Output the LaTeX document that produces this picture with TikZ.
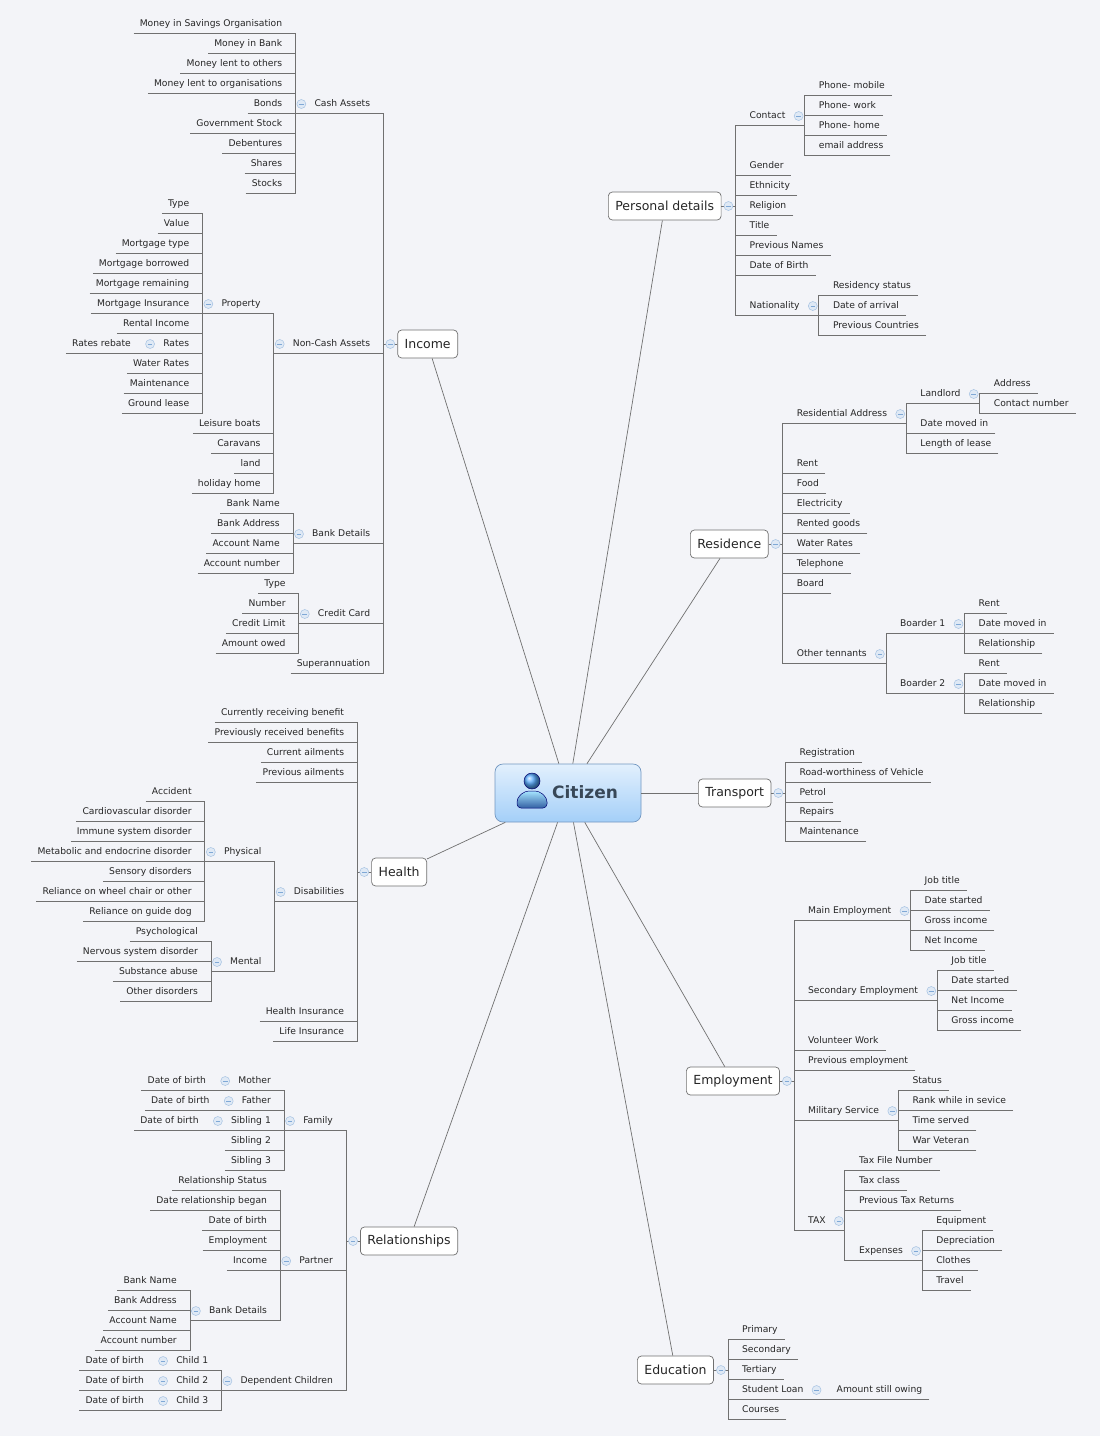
\documentclass[tikz,border=0pt]{standalone}
\usepackage{fontspec}
\setmainfont{DejaVu Sans}
\usetikzlibrary{calc}
\definecolor{bg}{HTML}{F3F4F8}
\definecolor{ln}{HTML}{707070}
\definecolor{cb}{HTML}{7FA8D6}
\definecolor{ctop}{HTML}{E2F0FD}
\definecolor{cbot}{HTML}{A4CFF8}
\definecolor{ctext}{HTML}{384858}
\tikzset{
 conn/.style={draw=ln,line width=0.7pt},
 base/.style={font=\fontsize{9.2}{11}\selectfont,text height=7pt,text depth=2.2pt,minimum height=18pt,inner ysep=0pt,text=black!85},
 box/.style={draw=ln,fill=white,rounded corners=4pt,minimum height=28pt,inner xsep=7pt,font=\fontsize{12.5}{14}\selectfont,text=black!85,line width=0.7pt},
 coll/.style={circle,draw=cb!70,fill=cb!25,minimum size=9pt,inner sep=0pt,line width=0.5pt,
   path picture={\draw[cb,line width=0.8pt] ([xshift=-2.3pt]path picture bounding box.center) -- ([xshift=2.3pt]path picture bounding box.center);}},
}
\newcommand\LL[4]{\node[base,anchor=east,inner xsep=0pt] (#1) at ([xshift=-13pt]#2 |- 0,#3) {#4};
 \coordinate (#1-a) at ([xshift=-6pt]#1.south west);\coordinate (#1-b) at ([xshift=13pt]#1.south east);
 \draw[conn] (#1-a) -- (#1-b) -- (#1-b |- #2);}
\newcommand\LP[4]{\node[base,anchor=east,inner xsep=0pt] (#1) at ([xshift=-13pt]#2 |- 0,#3) {#4};
 \coordinate (#1-a) at ([xshift=-19pt]#1.south west);\coordinate (#1-b) at ([xshift=13pt]#1.south east);
 \draw[conn] (#1-a) -- (#1-b) -- (#1-b |- #2);
 \node[coll] (#1-c) at ([xshift=6pt]#1-a |- #1.center) {};}
\newcommand\RL[4]{\node[base,anchor=west,inner xsep=0pt] (#1) at ([xshift=14pt]#2 |- 0,#3) {#4};
 \coordinate (#1-a) at ([xshift=7pt]#1.south east);\coordinate (#1-b) at ([xshift=-14pt]#1.south west);
 \draw[conn] (#1-a) -- (#1-b) -- (#1-b |- #2);}
\newcommand\RP[4]{\node[base,anchor=west,inner xsep=0pt] (#1) at ([xshift=14pt]#2 |- 0,#3) {#4};
 \coordinate (#1-a) at ([xshift=19pt]#1.south east);\coordinate (#1-b) at ([xshift=-14pt]#1.south west);
 \draw[conn] (#1-a) -- (#1-b) -- (#1-b |- #2);
 \node[coll] (#1-c) at ([xshift=-6pt]#1-a |- #1.center) {};}
\begin{document}
\begin{tikzpicture}[x=1pt,y=-1pt]
\fill[bg] (0,0) rectangle (1100,1436);
\useasboundingbox (0,0) rectangle (1100,1436);

% center
\node[draw=cb!90!black,rounded corners=8pt,top color=ctop,bottom color=cbot,minimum width=146pt,minimum height=58pt,line width=0.7pt] (cit) at (568,793) {};
\node[font=\bfseries\fontsize{17}{20}\selectfont,text=ctext] (citt) at (585,792) {Citizen};
\shade[top color=blue!30!cyan!35,bottom color=blue!60!cyan!55!black!80,draw=blue!45!black,line width=0.5pt,rounded corners=4pt] (517,808) -- (517,798) -- (525,791) -- (539,791) -- (547,798) -- (547,808) -- cycle;
\shade[ball color=blue!50!cyan!65,draw=blue!45!black,line width=0.5pt] (532,781) circle (8);

% boxes
\node[box,anchor=east] (inc) at (458,344) {Income};
\node[box,anchor=east] (hea) at (427,872) {Health};
\node[box,anchor=east] (rel) at (458,1241) {Relationships};
\node[box,anchor=west] (per) at (608,206) {Personal details};
\node[box,anchor=west] (res) at (690,544) {Residence};
\node[box,anchor=west] (tra) at (698,793) {Transport};
\node[box,anchor=west] (emp) at (686,1081) {Employment};
\node[box,anchor=west] (edu) at (637,1370) {Education};
\foreach \b in {inc,hea,rel,per,res,tra,emp,edu}{\draw[conn] (cit) -- (\b);}
\foreach \b in {inc,hea,rel}{\coordinate (\b V) at ([xshift=-14pt]\b.west);\draw[conn] (\b.west) -- (\b V);}
\foreach \b in {per,res,tra,emp,edu}{\coordinate (\b V) at ([xshift=14pt]\b.east);\draw[conn] (\b.east) -- (\b V);}

% Income
\LP{ca}{incV}{104}{Cash Assets}
\LL{ca1}{ca-a}{24}{Money in Savings Organisation}
\LL{ca2}{ca-a}{44}{Money in Bank}
\LL{ca3}{ca-a}{64}{Money lent to others}
\LL{ca4}{ca-a}{84}{Money lent to organisations}
\LL{ca5}{ca-a}{104}{Bonds}
\LL{ca6}{ca-a}{124}{Government Stock}
\LL{ca7}{ca-a}{144}{Debentures}
\LL{ca8}{ca-a}{164}{Shares}
\LL{ca9}{ca-a}{184}{Stocks}
\LP{nca}{incV}{344}{Non-Cash Assets}
\LP{pr}{nca-a}{304}{Property}
\LL{pr1}{pr-a}{204}{Type}
\LL{pr2}{pr-a}{224}{Value}
\LL{pr3}{pr-a}{244}{Mortgage type}
\LL{pr4}{pr-a}{264}{Mortgage borrowed}
\LL{pr5}{pr-a}{284}{Mortgage remaining}
\LL{pr6}{pr-a}{304}{Mortgage Insurance}
\LL{pr7}{pr-a}{324}{Rental Income}
\LP{rat}{pr-a}{344}{Rates}
\LL{rat1}{rat-a}{344}{Rates rebate}
\LL{pr9}{pr-a}{364}{Water Rates}
\LL{pr10}{pr-a}{384}{Maintenance}
\LL{pr11}{pr-a}{404}{Ground lease}
\LL{nc2}{nca-a}{424}{Leisure boats}
\LL{nc3}{nca-a}{444}{Caravans}
\LL{nc4}{nca-a}{464}{land}
\LL{nc5}{nca-a}{484}{holiday home}
\LP{bd}{incV}{534}{Bank Details}
\LL{bd1}{bd-a}{504}{Bank Name}
\LL{bd2}{bd-a}{524}{Bank Address}
\LL{bd3}{bd-a}{544}{Account Name}
\LL{bd4}{bd-a}{564}{Account number}
\LP{cc}{incV}{614}{Credit Card}
\LL{cc1}{cc-a}{584}{Type}
\LL{cc2}{cc-a}{604}{Number}
\LL{cc3}{cc-a}{624}{Credit Limit}
\LL{cc4}{cc-a}{644}{Amount owed}
\LL{sup}{incV}{664}{Superannuation}
\node[coll] at ($(inc.west)!0.5!(incV)$) {};

% Health
\LL{h1}{heaV}{713}{Currently receiving benefit}
\LL{h2}{heaV}{733}{Previously received benefits}
\LL{h3}{heaV}{753}{Current ailments}
\LL{h4}{heaV}{773}{Previous ailments}
\LP{dis}{heaV}{892}{Disabilities}
\LP{phy}{dis-a}{852}{Physical}
\LL{ph1}{phy-a}{792}{Accident}
\LL{ph2}{phy-a}{812}{Cardiovascular disorder}
\LL{ph3}{phy-a}{832}{Immune system disorder}
\LL{ph4}{phy-a}{852}{Metabolic and endocrine disorder}
\LL{ph5}{phy-a}{872}{Sensory disorders}
\LL{ph6}{phy-a}{892}{Reliance on wheel chair or other}
\LL{ph7}{phy-a}{912}{Reliance on guide dog}
\LP{men}{dis-a}{962}{Mental}
\LL{me1}{men-a}{932}{Psychological}
\LL{me2}{men-a}{952}{Nervous system disorder}
\LL{me3}{men-a}{972}{Substance abuse}
\LL{me4}{men-a}{992}{Other disorders}
\LL{h5}{heaV}{1012}{Health Insurance}
\LL{h6}{heaV}{1032}{Life Insurance}
\node[coll] at ($(hea.west)!0.5!(heaV)$) {};

% Relationships
\LP{fam}{relV}{1121}{Family}
\LP{mo}{fam-a}{1081}{Mother}
\LL{mo1}{mo-a}{1081}{Date of birth}
\LP{fa}{fam-a}{1101}{Father}
\LL{fa1}{fa-a}{1101}{Date of birth}
\LP{sa}{fam-a}{1121}{Sibling 1}
\LL{sa1}{sa-a}{1121}{Date of birth}
\LL{sb}{fam-a}{1141}{Sibling 2}
\LL{sc}{fam-a}{1161}{Sibling 3}
\LP{pa}{relV}{1261}{Partner}
\LL{pa1}{pa-a}{1181}{Relationship Status}
\LL{pa2}{pa-a}{1201}{Date relationship began}
\LL{pa3}{pa-a}{1221}{Date of birth}
\LL{pa4}{pa-a}{1241}{Employment}
\LL{pa5}{pa-a}{1261}{Income}
\LP{pb}{pa-a}{1311}{Bank Details}
\LL{pb1}{pb-a}{1281}{Bank Name}
\LL{pb2}{pb-a}{1301}{Bank Address}
\LL{pb3}{pb-a}{1321}{Account Name}
\LL{pb4}{pb-a}{1341}{Account number}
\LP{dc}{relV}{1381}{Dependent Children}
\LP{k1}{dc-a}{1361}{Child 1}
\LL{k1a}{k1-a}{1361}{Date of birth}
\LP{k2}{dc-a}{1381}{Child 2}
\LL{k2a}{k2-a}{1381}{Date of birth}
\LP{k3}{dc-a}{1401}{Child 3}
\LL{k3a}{k3-a}{1401}{Date of birth}
\node[coll] at ($(rel.west)!0.5!(relV)$) {};

% Personal details
\RP{con}{perV}{116}{Contact}
\RL{co1}{con-a}{86}{Phone- mobile}
\RL{co2}{con-a}{106}{Phone- work}
\RL{co3}{con-a}{126}{Phone- home}
\RL{co4}{con-a}{146}{email address}
\RL{pe1}{perV}{166}{Gender}
\RL{pe2}{perV}{186}{Ethnicity}
\RL{pe3}{perV}{206}{Religion}
\RL{pe4}{perV}{226}{Title}
\RL{pe5}{perV}{246}{Previous Names}
\RL{pe6}{perV}{266}{Date of Birth}
\RP{nat}{perV}{306}{Nationality}
\RL{na1}{nat-a}{286}{Residency status}
\RL{na2}{nat-a}{306}{Date of arrival}
\RL{na3}{nat-a}{326}{Previous Countries}
\node[coll] at ($(per.east)!0.5!(perV)$) {};

% Residence
\RP{ra}{resV}{414}{Residential Address}
\RP{ll}{ra-a}{394}{Landlord}
\RL{ll1}{ll-a}{384}{Address}
\RL{ll2}{ll-a}{404}{Contact number}
\RL{ra2}{ra-a}{424}{Date moved in}
\RL{ra3}{ra-a}{444}{Length of lease}
\RL{re1}{resV}{464}{Rent}
\RL{re2}{resV}{484}{Food}
\RL{re3}{resV}{504}{Electricity}
\RL{re4}{resV}{524}{Rented goods}
\RL{re5}{resV}{544}{Water Rates}
\RL{re6}{resV}{564}{Telephone}
\RL{re7}{resV}{584}{Board}
\RP{ot}{resV}{654}{Other tennants}
\RP{bo1}{ot-a}{624}{Boarder 1}
\RL{bo1a}{bo1-a}{604}{Rent}
\RL{bo1b}{bo1-a}{624}{Date moved in}
\RL{bo1c}{bo1-a}{644}{Relationship}
\RP{bo2}{ot-a}{684}{Boarder 2}
\RL{bo2a}{bo2-a}{664}{Rent}
\RL{bo2b}{bo2-a}{684}{Date moved in}
\RL{bo2c}{bo2-a}{704}{Relationship}
\node[coll] at ($(res.east)!0.5!(resV)$) {};

% Transport
\RL{tr1}{traV}{753}{Registration}
\RL{tr2}{traV}{773}{Road-worthiness of Vehicle}
\RL{tr3}{traV}{793}{Petrol}
\RL{tr4}{traV}{812}{Repairs}
\RL{tr5}{traV}{832}{Maintenance}
\node[coll] at ($(tra.east)!0.5!(traV)$) {};

% Employment
\RP{mem}{empV}{911}{Main Employment}
\RL{mem1}{mem-a}{881}{Job title}
\RL{mem2}{mem-a}{901}{Date started}
\RL{mem3}{mem-a}{921}{Gross income}
\RL{mem4}{mem-a}{941}{Net Income}
\RP{sem}{empV}{991}{Secondary Employment}
\RL{sem1}{sem-a}{961}{Job title}
\RL{sem2}{sem-a}{981}{Date started}
\RL{sem3}{sem-a}{1001}{Net Income}
\RL{sem4}{sem-a}{1021}{Gross income}
\RL{em3}{empV}{1041}{Volunteer Work}
\RL{em4}{empV}{1061}{Previous employment}
\RP{mil}{empV}{1111}{Military Service}
\RL{mil1}{mil-a}{1081}{Status}
\RL{mil2}{mil-a}{1101}{Rank while in sevice}
\RL{mil3}{mil-a}{1121}{Time served}
\RL{mil4}{mil-a}{1141}{War Veteran}
\RP{tax}{empV}{1221}{TAX}
\RL{tax1}{tax-a}{1161}{Tax File Number}
\RL{tax2}{tax-a}{1181}{Tax class}
\RL{tax3}{tax-a}{1201}{Previous Tax Returns}
\RP{ex}{tax-a}{1251}{Expenses}
\RL{ex1}{ex-a}{1221}{Equipment}
\RL{ex2}{ex-a}{1241}{Depreciation}
\RL{ex3}{ex-a}{1261}{Clothes}
\RL{ex4}{ex-a}{1281}{Travel}
\node[coll] at ($(emp.east)!0.5!(empV)$) {};

% Education
\RL{ed1}{eduV}{1330}{Primary}
\RL{ed2}{eduV}{1350}{Secondary}
\RL{ed3}{eduV}{1370}{Tertiary}
\RP{sl}{eduV}{1390}{Student Loan}
\RL{sl1}{sl-a}{1390}{Amount still owing}
\RL{ed5}{eduV}{1410}{Courses}
\node[coll] at ($(edu.east)!0.5!(eduV)$) {};
\end{tikzpicture}
\end{document}
